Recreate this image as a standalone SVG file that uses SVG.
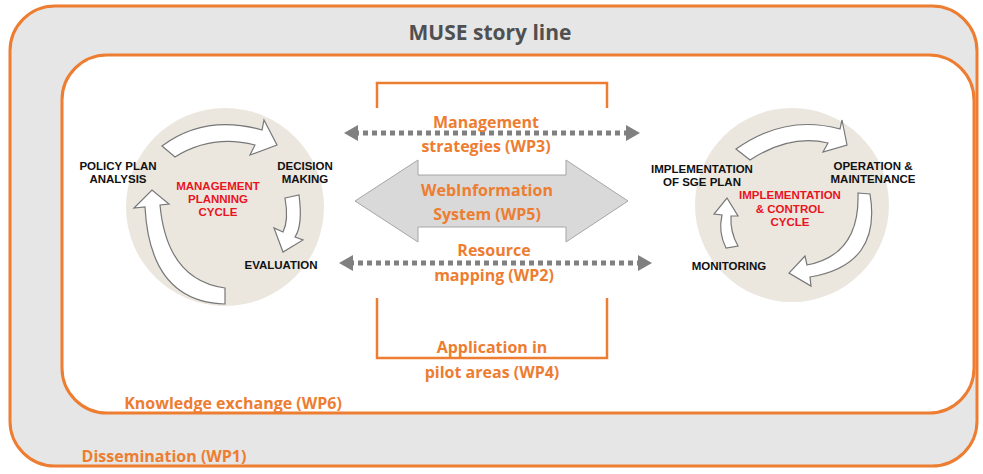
<svg xmlns="http://www.w3.org/2000/svg" width="983" height="474" viewBox="0 0 983 474">
<defs>
<style>
.o{font-family:"Open Sans","Liberation Sans",sans-serif;font-weight:bold;fill:#ed7d31;font-size:16px;text-anchor:middle}
.k{font-family:"Liberation Sans",sans-serif;font-weight:bold;fill:#111;font-size:11.5px;text-anchor:middle}
.r{font-family:"Liberation Sans",sans-serif;font-weight:bold;fill:#e8141e;font-size:11.5px;text-anchor:middle}
.ar{fill:#fff;stroke:#777;stroke-width:1.2}
.dot{stroke:#808080;stroke-width:5;stroke-dasharray:5 4;fill:none}
</style>
<marker id="h" markerWidth="14" markerHeight="16" refX="4" refY="8" orient="auto-start-reverse" markerUnits="userSpaceOnUse" viewBox="0 0 14 16"><path d="M0,0L14,8L0,16Z" fill="#808080"/></marker>
</defs>
<g id="outer"><rect x="10" y="6" width="967" height="460" rx="45" fill="#e6e6e6" stroke="#ed7d31" stroke-width="3"/>
<text x="490" y="40" font-family="'Open Sans','Liberation Sans',sans-serif" font-weight="bold" font-size="21" fill="#505050" text-anchor="middle">MUSE story line</text>
<text x="164" y="462" class="o">Dissemination (WP1)</text></g>
<g id="inner"><rect x="62" y="55" width="912" height="358" rx="45" fill="#fff" stroke="#ed7d31" stroke-width="3"/>
<text x="233" y="409" class="o">Knowledge exchange (WP6)</text></g>
<g id="left-cycle">
<circle cx="225" cy="207" r="99" fill="#ebe7df"/>
<path class="ar" d="M162,146 Q205,114 262,130 L264,120 L277,145 L250,155 L255,145 Q212,134 175,157 Z"/>
<path class="ar" d="M285,198 L299,195 Q303,225 295,237 L303,240 L283,252 L274,228 L283,232 Q289,220 285,198 Z"/>
<path class="ar" d="M225,304 Q150,302 145,207 L134,208 L152,190 L169,204 L160,205 Q167,280 225,288 Z"/>
<text class="k" x="118" y="170">POLICY PLAN</text><text class="k" x="118" y="183">ANALYSIS</text>
<text class="k" x="305" y="170">DECISION</text><text class="k" x="305" y="183">MAKING</text>
<text class="k" x="281" y="269">EVALUATION</text>
<text class="r" x="218" y="190">MANAGEMENT</text><text class="r" x="218" y="203">PLANNING</text><text class="r" x="218" y="216">CYCLE</text>
</g>
<g id="right-cycle">
<circle cx="792" cy="205" r="97" fill="#ebe7df"/>
<path class="ar" d="M736,149 Q785,114 840,129 L842,120 L847,145 L823,152 L828,143 Q790,134 750,160 Z"/>
<path class="ar" d="M858,193 L870,194 Q882,265 810,277 L811,286 L789,273 L805,256 L807,265 Q860,255 858,193 Z"/>
<path class="ar" d="M726,248 Q718,232 722,215 L714,214 L727,198 L738,216 L731,216 Q730,232 738,246 Z"/>
<text class="k" x="702" y="173">IMPLEMENTATION</text><text class="k" x="702" y="186">OF SGE PLAN</text>
<text class="k" x="873" y="170">OPERATION &amp;</text><text class="k" x="873" y="183">MAINTENANCE</text>
<text class="k" x="729" y="270">MONITORING</text>
<text class="r" x="790" y="199">IMPLEMENTATION</text><text class="r" x="790" y="213">&amp; CONTROL</text><text class="r" x="790" y="226">CYCLE</text>
</g>
<g id="connectors">
<path d="M377,108V83H607V108" fill="none" stroke="#ed7d31" stroke-width="2.5"/>
<path d="M377,298V358H607V298" fill="none" stroke="#ed7d31" stroke-width="2.5"/>
<line class="dot" x1="354" y1="133" x2="630" y2="133" marker-start="url(#h)" marker-end="url(#h)"/>
<line class="dot" x1="349" y1="263" x2="642" y2="263" marker-start="url(#h)" marker-end="url(#h)"/>
<path d="M355,201 L418,160 L418,175 L566,175 L566,160 L628,201 L566,242 L566,227 L418,227 L418,242 Z" fill="#d9d9d9" stroke="#a6a6a6" stroke-width="1"/>
</g>
<g id="labels">
<text class="o" x="486" y="128">Management</text><text class="o" x="486" y="152">strategies (WP3)</text>
<text class="o" x="487" y="196">WebInformation</text><text class="o" x="487" y="220">System (WP5)</text>
<text class="o" x="494" y="256">Resource</text><text class="o" x="494" y="281">mapping (WP2)</text>
<text class="o" x="492" y="353">Application in</text><text class="o" x="492" y="378">pilot areas (WP4)</text>
</g>
</svg>
